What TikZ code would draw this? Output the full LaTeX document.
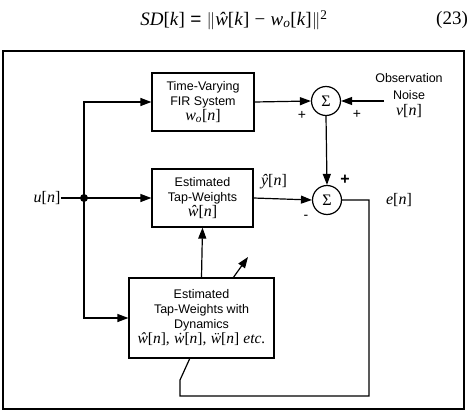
\documentclass[tikz,border=0pt]{standalone}
\usepackage{fontspec}
\setmainfont{Liberation Sans}
\newfontfamily\tms{Liberation Serif}
\usetikzlibrary{arrows.meta}
\newcommand\vi[1]{{\tms\itshape #1\/}}
\newcommand\vu[1]{{\tms #1}}
\newcommand\lab[2]{\vi{#1}\vu{[}\vi{#2}\vu{]}}
\begin{document}
\begin{tikzpicture}[x=1pt,y=-1pt,line width=1.2pt,
  blk/.style={draw,line width=1.2pt,align=center,inner sep=0pt,font=\fontsize{12.5}{15}\selectfont},
  sumc/.style={draw,circle,minimum size=29pt,inner sep=0pt,font=\fontsize{16}{16}\selectfont},
  arr/.style={-{Triangle[length=11pt,width=8pt]}},
  lbl/.style={inner sep=0pt,font=\fontsize{16}{16}\selectfont},
  sgn/.style={inner sep=0pt,font=\fontsize{14}{14}\selectfont}]
\useasboundingbox (0,0) rectangle (474,412);
% equation
\node[inner sep=0pt,font=\fontsize{19}{20}\selectfont] (eq) at (234,20)
  {\lab{SD}{k} = $\big\|$\vi{\^w}\vu{[}\vi{k}\vu{]} \vu{−} \vi{w}\textsubscript{\vi{o}}\vu{[}\vi{k}\vu{]}$\big\|$\textsuperscript{\vu{2}}};
\node[inner sep=0pt,font=\fontsize{19}{20}\selectfont] (num) at (452,20) {\vu{(23)}};
% frame
\draw[line width=1.4pt] (3,51) rectangle (464,409);
% blocks
\node[blk,minimum width=102pt,minimum height=58pt] (box1) at (203,102)
  {Time-Varying\\FIR System\\{\fontsize{16}{15}\selectfont\vi{w}\textsubscript{\vi{o}}\vu{[}\vi{n}\vu{]}}};
\node[blk,minimum width=101pt,minimum height=58pt] (box2) at (202.5,198)
  {Estimated\\Tap-Weights\\{\fontsize{16}{15}\selectfont\lab{\^w}{n}}};
\node[blk,minimum width=145pt,minimum height=80pt] (box3) at (201.5,318)
  {Estimated\\Tap-Weights with\\Dynamics\\{\fontsize{15.5}{15}\selectfont\lab{\^w}{n}\vu{,} \lab{\.w}{n}\vu{,} \lab{\"w}{n} \vi{etc.}}};
\node[sumc] (s1) at (326,101) {\vu{Σ}};
\node[sumc] (s2) at (327,200) {\vu{Σ}};
% labels
\node[lbl] (u) at (47,198) {\lab{u}{n}};
\node[inner sep=0pt,align=center,font=\fontsize{12.5}{16.5}\selectfont] (noise) at (409,96)
  {Observation\\Noise\\{\fontsize{16}{15}\selectfont\lab{v}{n}}};
\node[lbl] (yh) at (274,182) {\lab{\^y}{n}};
\node[lbl] (e) at (399,200) {\lab{e}{n}};
\node[sgn] (p1) at (302,115) {+};
\node[sgn] (p2) at (357,114) {+};
\node[sgn,font=\fontsize{16}{16}\bfseries] (p3) at (345,180) {+};
\node[sgn] (m1) at (306,217) {-};
% coordinates
\coordinate (j) at (84,198);
\coordinate (ns) at (384,101);
\coordinate (c1) at (369,200);
\coordinate (c2) at (369,396);
\coordinate (c3) at (180,396);
\coordinate (c4) at (180,380);
\coordinate (c5) at (190,358);
\coordinate (da) at (233,278);
\coordinate (db) at (248,257);
% connectors
\draw (u.east) -- (j);
\fill (j) circle (4pt);
\draw[arr] (j) -- (box2.west);
\draw[arr] (j) |- (box1.west);
\draw[arr] (j) |- (box3.west);
\draw[arr] (box1.east) -- (s1.west);
\draw[arr] (ns) -- (s1.east);
\draw[arr] (s1.south) -- (s2.north);
\draw[arr] (box2.east) -- (s2.west);
\draw[arr] (box3.north) -- (box2.south);
\draw (s2.east) -- (c1) -- (c2) -- (c3) -- (c4) -- (c5);
\draw[arr] (da) -- (db);
\end{tikzpicture}
\end{document}
